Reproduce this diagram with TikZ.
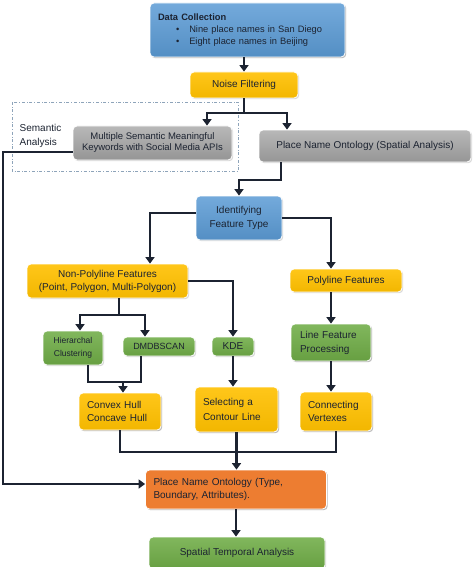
\documentclass[tikz,border=0pt]{standalone}
\usepackage{fontspec}
\setmainfont{Liberation Sans}
\usetikzlibrary{arrows.meta, positioning, calc, shadows}
\definecolor{ink}{HTML}{1C2331}
\definecolor{sky}{HTML}{5B9BD5}
\definecolor{amber}{HTML}{FFC000}
\definecolor{stone}{HTML}{A6A6A6}
\definecolor{leaf}{HTML}{70AD47}
\definecolor{rust}{HTML}{ED7D31}
\definecolor{frame}{HTML}{8EA4BA}

\begin{document}
\begin{tikzpicture}[x=1pt, y=-1pt,
      box/.style={rounded corners=4pt, draw=white, line width=0.8pt, inner sep=2pt,
                  align=center, text=ink, font=\fontsize{10}{13}\selectfont,
                  drop shadow={shadow xshift=1.2pt, shadow yshift=-1.2pt, opacity=0.3}},
      lbox/.style={box, align=left, inner xsep=8pt},
      bluebox/.style={box, top color=sky!85!white, bottom color=sky!92!black},
      yellowbox/.style={box, top color=amber!90!white, bottom color=amber!95!black},
      graybox/.style={box, top color=stone!80!white, bottom color=stone!90!black},
      greenbox/.style={box, top color=leaf!88!white, bottom color=leaf!92!black},
      orangebox/.style={box, fill=rust},
      link/.style={ink, line width=2.5pt},
      arr/.style={link, -{Triangle[length=6.5pt, width=9pt]}}]
    \useasboundingbox (0,0) rectangle (474,567);
    \draw[frame, dash dot, line width=0.7pt] (12,102) rectangle (238,171);
    \node[bluebox, lbox, text width=179pt, minimum height=54pt, font=\fontsize{9.3}{12}\selectfont]
      (dc) at (247.5,30) {\textbf{Data Collection}\\
        \hspace*{18pt}\textbullet\hspace{10pt}Nine place names in San Diego\\
        \hspace*{18pt}\textbullet\hspace{10pt}Eight place names in Beijing};
    \node[yellowbox, minimum width=108pt, minimum height=26pt] (noise) at (244,85) {Noise Filtering};
    \node[align=left, text=ink, font=\fontsize{10}{14}\selectfont, inner sep=0pt]
      (semlbl) at (40.5,136) {Semantic\\Analysis};
    \node[graybox, minimum width=159pt, minimum height=34pt, font=\fontsize{9.5}{11}\selectfont]
      (sem) at (152.5,143) {Multiple Semantic Meaningful\\Keywords with Social Media APIs};
    \node[graybox, minimum width=212pt, minimum height=32pt] (spat) at (365,146)
      {Place Name Ontology (Spatial Analysis)};
    \node[bluebox, minimum width=86pt, minimum height=44pt, font=\fontsize{10}{13.5}\selectfont]
      (ident) at (239,218) {Identifying\\Feature Type};
    \node[yellowbox, minimum width=161pt, minimum height=34pt] (nonpoly) at (107.5,281)
      {Non-Polyline Features\\(Point, Polygon, Multi-Polygon)};
    \node[yellowbox, minimum width=112pt, minimum height=23pt] (poly) at (346,280.5) {Polyline Features};
    \node[greenbox, minimum width=60pt, minimum height=34pt, font=\fontsize{8.5}{12.5}\selectfont]
      (hier) at (73,348) {Hierarchal\\Clustering};
    \node[greenbox, minimum width=72pt, minimum height=19pt, font=\fontsize{9}{11}\selectfont]
      (dmdb) at (159,346.5) {DMDBSCAN};
    \node[greenbox, minimum width=42pt, minimum height=19pt] (kde) at (233,346.5) {KDE};
    \node[greenbox, lbox, inner xsep=9pt, text width=62pt, minimum height=37pt,
          font=\fontsize{10}{14}\selectfont] (linefeat) at (331,342.5) {Line Feature\\Processing};
    \node[yellowbox, lbox, text width=66pt, minimum height=37pt, font=\fontsize{10}{12.5}\selectfont]
      (convex) at (120,411.5) {Convex Hull\\Concave Hull};
    \node[yellowbox, lbox, text width=67pt, minimum height=45pt, font=\fontsize{10}{14.5}\selectfont]
      (contour) at (236.5,409.5) {Selecting a\\Contour Line};
    \node[yellowbox, lbox, text width=56pt, minimum height=39pt] (connect) at (336,411.5)
      {Connecting\\Vertexes};
    \node[orangebox, lbox, text width=165pt, minimum height=39pt, font=\fontsize{10}{12.5}\selectfont]
      (pno) at (236,489.5) {Place Name Ontology (Type,\\Boundary, Attributes).};
    \node[greenbox, minimum width=176pt, minimum height=32pt] (sta) at (237,553)
      {Spatial Temporal Analysis};
    \coordinate (jA) at (244,113);
    \coordinate (jB) at (239,180);
    \coordinate (jC) at (119,315);
    \coordinate (jD) at (123,382);
    \coordinate (jE) at (236.5,452);
    \coordinate (lb) at (3,484);
    \draw[arr] (noise.north |- dc.south) -- (noise.north);
    \draw[link] (noise.south) -- (jA);
    \draw[arr] (jA) -| ([xshift=54.5pt]sem.north);
    \draw[arr] (jA) -| ([xshift=-78pt]spat.north);
    \draw[arr] ([xshift=-84pt]spat.south) |- (jB) -- (ident.north);
    \draw[arr] ([yshift=5pt]ident.west) -| ([xshift=42.5pt]nonpoly.north);
    \draw[arr] (ident.east) -| (poly.north -| linefeat.north);
    \draw[link] ([xshift=11.5pt]nonpoly.south) -- (jC);
    \draw[arr] (jC) -| ([xshift=7pt]hier.north);
    \draw[arr] (jC) -| ([xshift=-14pt]dmdb.north);
    \draw[arr] (nonpoly.east) -| (kde.north);
    \draw[arr] (poly.south -| linefeat.north) -- (linefeat.north);
    \draw[link] ([xshift=15pt]hier.south) |- (jD);
    \draw[link] ([xshift=-18pt]dmdb.south) |- (jD);
    \draw[arr] (jD) -- (jD |- convex.north);
    \draw[arr] (kde.south) -- (kde.south |- contour.north);
    \draw[arr] (linefeat.south) -- (linefeat.south |- connect.north);
    \draw[link] (convex.south) |- (jE) -| (connect.south);
    \draw[arr] (contour.south) -- (contour.south |- pno.north);
    \draw[arr] ([yshift=-9pt]sem.west) -| (lb) -- (lb -| pno.west);
    \draw[arr] (pno.south) -- (pno.south |- sta.north);
  \end{tikzpicture}
\end{document}
